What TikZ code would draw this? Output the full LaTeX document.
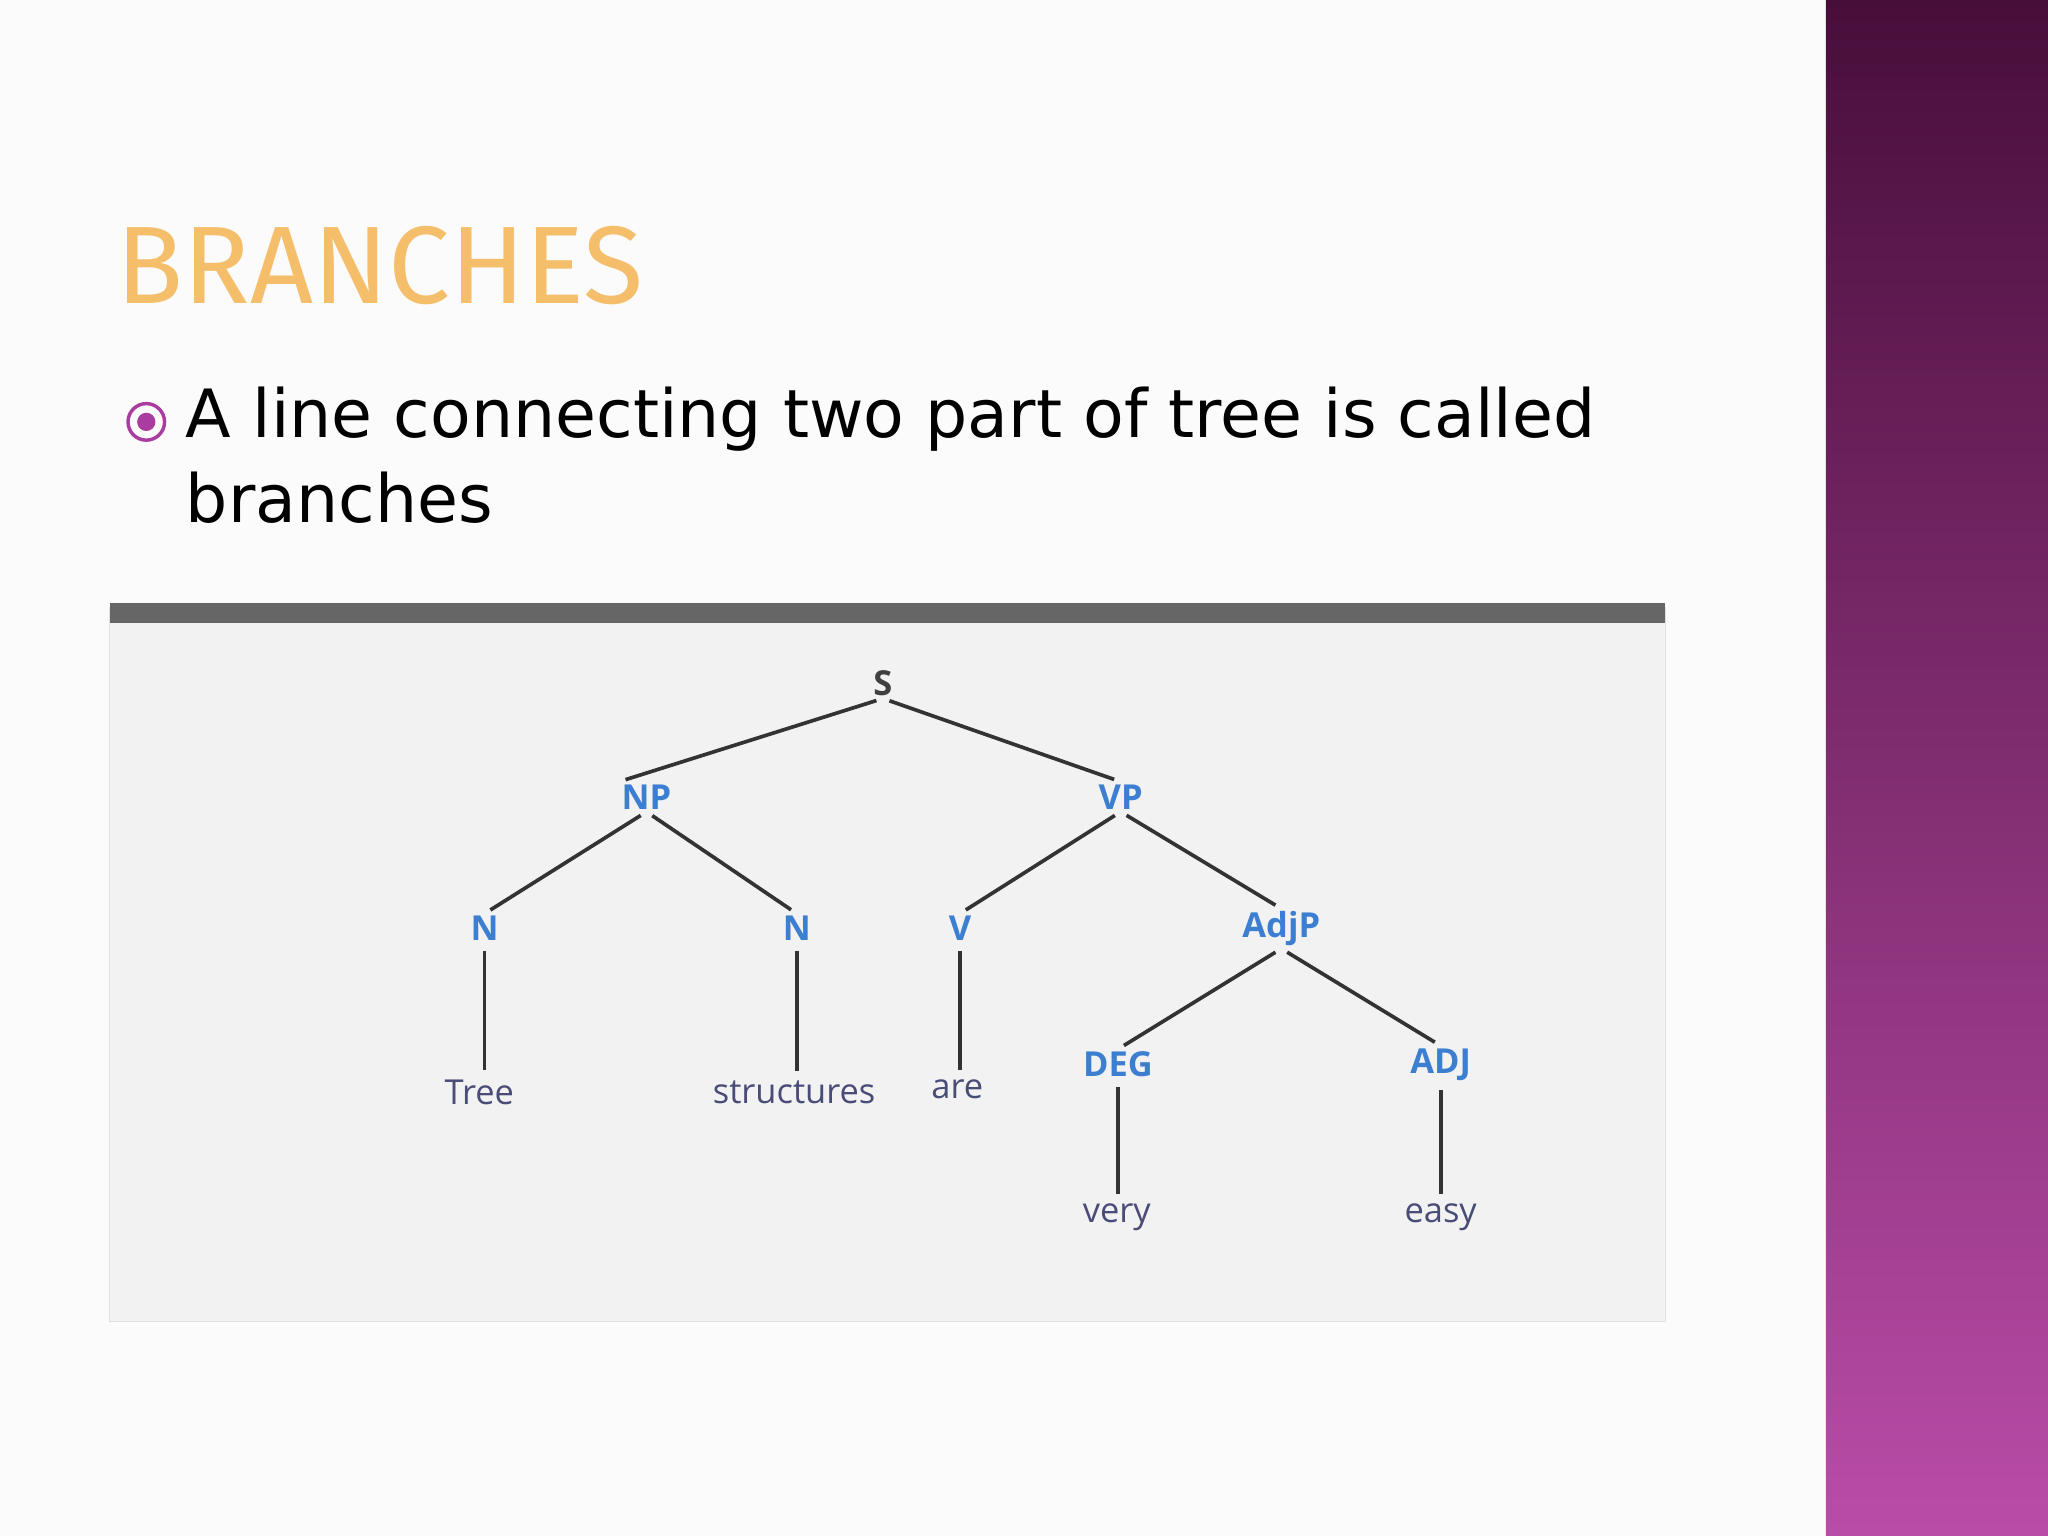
\documentclass[tikz,border=0pt]{standalone}
\usepackage{fontspec}
\setmainfont{DejaVu Sans}
\newfontfamily\tf{Fira Sans}
\newfontfamily\lf{Open Sans}
\definecolor{tblue}{HTML}{3C7FD0}
\definecolor{leaf}{HTML}{4A4C78}
\definecolor{orng}{HTML}{F4BE6A}
\definecolor{bpur}{RGB}{170,60,160}
\begin{document}
\begin{tikzpicture}[x=0.02cm,y=-0.02cm,
  cat/.style={font=\lf\bfseries\fontsize{15}{15}\selectfont,text=tblue,inner sep=1pt},
  lf/.style={font=\lf\fontsize{15}{15}\selectfont,text=leaf,inner sep=1pt},
  br/.style={line width=1.6pt,draw=black!80,shorten <=3pt,shorten >=3pt}]
\useasboundingbox (0,0) rectangle (1568,1176);
\fill[white!97!gray] (0,0) rectangle (1398,1176);
\shade[top color={rgb,255:red,72;green,14;blue,58},bottom color={rgb,255:red,186;green,76;blue,168}] (1398,0) rectangle (1568,1176);
\node[anchor=west,inner sep=0,font=\tf\fontsize{48}{48}\selectfont,text=orng] (title) at (89,203) {BRANCHES};
\node[circle,draw=bpur,line width=1.5pt,minimum size=0.56cm,inner sep=0] (bul) at (112,323) {};
\fill[bpur] (bul.center) circle (0.14cm);
\node[anchor=north west,inner sep=0,align=left,font=\fontsize{29}{37}\selectfont] (txt) at (142,296) {A line connecting two part of tree is called\\branches};
\filldraw[fill=black!5,draw=black!12] (84,465) rectangle (1275,1012);
\fill[black!60] (84,462) rectangle (1275,477);
\node[font=\lf\bfseries\fontsize{15}{15}\selectfont,text=black!75,inner sep=1pt] (S) at (676,523) {S};
\node[cat] (NP) at (495,610) {NP};
\node[cat] (VP) at (858,610) {VP};
\node[cat] (N1) at (371,711) {N};
\node[cat] (N2) at (610,711) {N};
\node[cat] (V) at (735,711) {V};
\node[cat] (AdjP) at (981,711) {AdjP};
\node[lf] (Tree) at (367,836) {Tree};
\node[lf] (str) at (608,836) {structures};
\node[lf] (are) at (733,834) {are};
\node[cat] (DEG) at (856,815) {DEG};
\node[cat] (ADJ) at (1103,815) {ADJ};
\node[lf] (very) at (855,932) {very};
\node[lf] (easy) at (1103,932) {easy};
\draw[br] (S.south) -- (NP.north west);
\draw[br] (S.south) -- (VP.north);
\draw[br] (NP.south) -- (N1.north);
\draw[br] (NP.south) -- (N2.north);
\draw[br] (VP.south) -- (V.north);
\draw[br] (VP.south) -- (AdjP.north);
\draw[br] (N1.south) -- (N1.south |- Tree.north);
\draw[br] (N2.south) -- (N2.south |- str.north);
\draw[br] (V.south) -- (V.south |- are.north);
\draw[br] (AdjP.south) -- (DEG.north);
\draw[br] (AdjP.south) -- (ADJ.north);
\draw[br] (DEG.south) -- (DEG.south |- very.north);
\draw[br] (ADJ.south) -- (ADJ.south |- easy.north);
\end{tikzpicture}
\end{document}
